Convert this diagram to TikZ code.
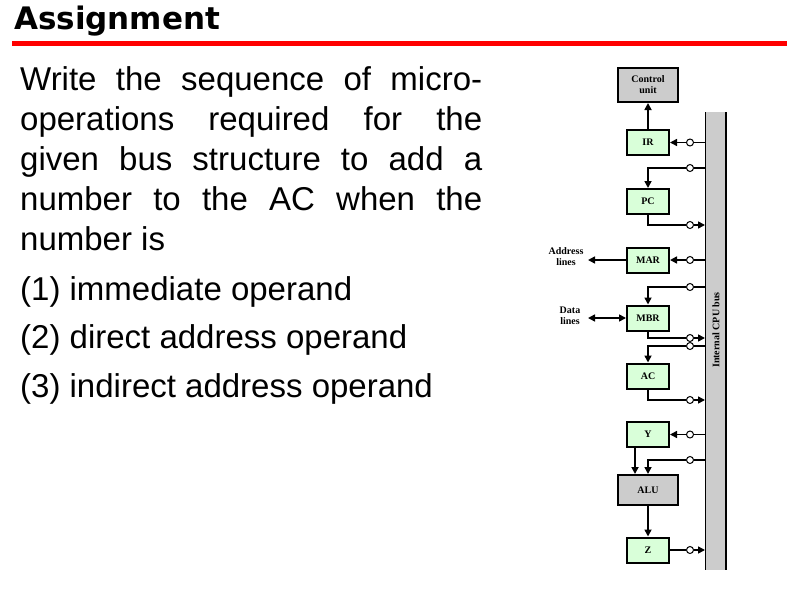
\documentclass[tikz,border=0pt]{standalone}
\usepackage{fontspec}
\setmainfont{Liberation Sans}
\newfontfamily\titlefont{DejaVu Sans}
\newfontfamily\serifb{Liberation Serif}
\usetikzlibrary{arrows.meta}
\begin{document}
\begin{tikzpicture}[x=1pt,y=1pt,
  reg/.style={draw,line width=2pt,fill=green!15!white,minimum width=42pt,minimum height=25pt,font=\serifb\bfseries\fontsize{10}{11}\selectfont,inner sep=1pt},
  gbox/.style={reg,fill=black!20,minimum width=60pt},
  oc/.style={circle,draw,fill=white,line width=1pt,inner sep=0pt,minimum size=7pt},
  wire/.style={line width=1.6pt},
  arr/.style={wire,-{Triangle[length=7pt,width=7pt]}},
  big/.style={anchor=base west,inner sep=0pt,font=\fontsize{33}{40}\selectfont},
  lbl/.style={font=\serifb\bfseries\fontsize{10}{11}\selectfont,align=center}]
\useasboundingbox (0,0) rectangle (798,-594);
% title
\node[anchor=base west,inner sep=0pt,font=\titlefont\bfseries\fontsize{31}{32}\selectfont] (title) at (14,-30) {Assignment};
\fill[red] (12,-41) rectangle (787,-46);
% text
\node[big] (t1) at (20,-90) {\makebox[462pt][s]{Write the sequence of micro-}};
\node[big] (t2) at (20,-130) {\makebox[462pt][s]{operations required for the}};
\node[big] (t3) at (20,-170) {\makebox[462pt][s]{given bus structure to add a}};
\node[big] (t4) at (20,-210) {\makebox[462pt][s]{number to the AC when the}};
\node[big] (t5) at (20,-250) {number is};
\node[big] (l1) at (20,-300) {(1) immediate operand};
\node[big] (l2) at (20,-348) {(2) direct address operand};
\node[big] (l3) at (20,-397) {(3) indirect address operand};
% bus
\fill[black!20] (705,-112) rectangle (726,-570);
\draw[line width=1pt] (705,-112) -- (705,-570);
\draw[line width=2pt] (726,-112) -- (726,-570);
\node[rotate=90,lbl] (busl) at (716,-330) {Internal CPU bus};
\coordinate (b) at (705,0);
% boxes
\node[gbox,align=center,minimum height=34pt,minimum width=60pt] (cu) at (648,-85) {Control\\unit};
\node[reg] (ir) at (648,-142.5) {IR};
\node[reg] (pc) at (648,-201.5) {PC};
\node[reg] (mar) at (648,-260) {MAR};
\node[reg] (mbr) at (648,-318) {MBR};
\node[reg] (ac) at (648,-376) {AC};
\node[reg] (y) at (648,-434.5) {Y};
\node[gbox,minimum height=30pt] (alu) at (648,-490) {ALU};
\node[reg] (z) at (648,-550) {Z};
% circles
\node[oc] (cir) at (690,-142.5) {};
\node[oc] (cpci) at (690,-168) {};
\node[oc] (cpco) at (690,-225) {};
\node[oc] (cmar) at (690,-260) {};
\node[oc] (cmbi) at (690,-287) {};
\node[oc] (cmbo) at (690,-338) {};
\node[oc] (caci) at (690,-346) {};
\node[oc] (caco) at (690,-400) {};
\node[oc] (cy) at (690,-434.5) {};
\node[oc] (calu) at (690,-460) {};
\node[oc] (cz) at (690,-550) {};
% connections
\draw[arr] (ir.north) -- (cu.south);
\draw[wire] (b|-cir) -- (cir); \draw[arr] (cir) -- (ir.east);
\draw[wire] (b|-cpci) -- (cpci); \draw[arr] (cpci) -| (pc.north);
\draw[wire] (pc.south) |- (cpco); \draw[arr] (cpco) -- (b|-cpco);
\draw[wire] (b|-cmar) -- (cmar); \draw[arr] (cmar) -- (mar.east);
\draw[wire] (b|-cmbi) -- (cmbi); \draw[arr] (cmbi) -| (mbr.north);
\draw[wire] (mbr.south) |- (cmbo); \draw[arr] (cmbo) -- (b|-cmbo);
\draw[wire] (b|-caci) -- (caci); \draw[arr] (caci) -| (ac.north);
\draw[wire] (ac.south) |- (caco); \draw[arr] (caco) -- (b|-caco);
\draw[wire] (b|-cy) -- (cy); \draw[arr] (cy) -- (y.east);
\draw[wire] (b|-calu) -- (calu); \draw[arr] (calu) -| (alu.north);
\draw[arr,line width=2.4pt] (y.south -| 635,0) -- (alu.north -| 635,0);
\draw[arr] (alu.south) -- (z.north);
\draw[wire] (z.east) -- (cz); \draw[arr] (cz) -- (b|-cz);
% address/data
\node[lbl] (addr) at (566,-257) {Address\\lines};
\node[lbl] (data) at (570,-316) {Data\\lines};
\coordinate (ae) at (588,-260);
\coordinate (de) at (588,-318);
\draw[arr] (mar.west) -- (ae);
\draw[wire,{Triangle[length=7pt,width=7pt]}-{Triangle[length=7pt,width=7pt]}] (de) -- (mbr.west);
\end{tikzpicture}
\end{document}
